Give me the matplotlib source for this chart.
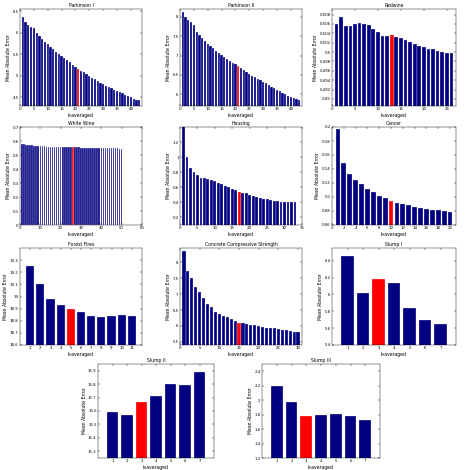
import matplotlib
matplotlib.use("Agg")
import matplotlib.pyplot as plt

W, H = 474, 470

park1 = [6.36, 6.25, 6.18, 6.14, 6.12, 6.0, 5.93, 5.86, 5.79, 5.73, 5.67, 5.62, 5.56, 5.51,
         5.46, 5.41, 5.36, 5.31, 5.26, 5.21, 5.16, 5.12, 5.08, 5.04, 5.0, 4.96, 4.92, 4.88,
         4.84, 4.80, 4.77, 4.74, 4.71, 4.68, 4.65, 4.62, 4.59, 4.56, 4.53, 4.50, 4.47, 4.45, 4.43]
park2 = [8.12, 8.0, 7.92, 7.86, 7.78, 7.62, 7.53, 7.45, 7.38, 7.31, 7.25, 7.19, 7.13, 7.07,
         7.01, 6.96, 6.91, 6.86, 6.81, 6.77, 6.73, 6.68, 6.63, 6.58, 6.53, 6.48, 6.44, 6.40,
         6.36, 6.32, 6.28, 6.24, 6.20, 6.16, 6.12, 6.08, 6.04, 6.00, 5.97, 5.94, 5.91, 5.88, 5.85]
redwine = [0.5060, 0.5075, 0.5055, 0.5056, 0.5060, 0.5062, 0.5060, 0.5057, 0.5049, 0.5043,
           0.5034, 0.5034, 0.5036, 0.5033, 0.5031, 0.5025, 0.5021, 0.5017, 0.5014, 0.5010,
           0.5006, 0.5006, 0.5002, 0.5000, 0.4999, 0.4998]
whitewine = [0.580, 0.576, 0.574, 0.572, 0.570, 0.568, 0.566, 0.565, 0.564, 0.563,
             0.562, 0.561, 0.560, 0.560, 0.559, 0.559, 0.558, 0.558, 0.557, 0.557,
             0.556, 0.556, 0.556, 0.555, 0.555, 0.555, 0.554, 0.554, 0.554, 0.553,
             0.553, 0.553, 0.552, 0.552, 0.552, 0.551, 0.551, 0.551, 0.550, 0.550,
             0.550, 0.549, 0.549, 0.549, 0.548, 0.548, 0.547, 0.547, 0.546, 0.546]
housing = [1.42, 1.0, 0.85, 0.8, 0.76, 0.73, 0.72, 0.71, 0.7, 0.68, 0.66, 0.64, 0.62, 0.6,
           0.58, 0.56, 0.54, 0.53, 0.52, 0.5, 0.49, 0.47, 0.46, 0.44, 0.44, 0.43, 0.42, 0.42,
           0.41, 0.4, 0.4, 0.4, 0.4]
cancer = [0.197, 0.148, 0.133, 0.124, 0.118, 0.112, 0.107, 0.102, 0.098, 0.094,
          0.091, 0.090, 0.088, 0.086, 0.085, 0.083, 0.082, 0.081, 0.080, 0.079]
forest = [19.25, 19.1, 18.98, 18.93, 18.9, 18.87, 18.84, 18.83, 18.84, 18.85, 18.84]
concrete = [8.35, 7.73, 7.5, 7.22, 7.08, 6.88, 6.7, 6.58, 6.45, 6.38, 6.32, 6.27, 6.22, 6.17,
            6.1, 6.09, 6.06, 6.04, 6.02, 6.0, 5.97, 5.95, 5.93, 5.92, 5.9, 5.88, 5.86, 5.84,
            5.82, 5.8]
slump1 = [6.46, 6.02, 6.18, 6.13, 5.84, 5.7, 5.65]
slump2 = [15.59, 15.57, 15.67, 15.71, 15.8, 15.79, 15.89]
slump3 = [2.19, 1.97, 1.78, 1.79, 1.81, 1.78, 1.73]

# (title, data, best k, ylim, xlim, xticks, yticks, pixel box l,t,r,b)
panels = [
    ("Parkinson I", park1, 21, (4.3, 6.55), (0, 44), range(0, 45, 5), [4.5, 5, 5.5, 6, 6.5], (20, 9, 142, 106)),
    ("Parkinson II", park2, 21, (5.7, 8.2), (0, 44), range(0, 45, 5), [6, 6.5, 7, 7.5, 8], (180, 9, 302, 106)),
    ("Redwine", redwine, 13, (0.4885, 0.5092), (0, 27), range(0, 30, 5),
     [0.49, 0.492, 0.494, 0.496, 0.498, 0.5, 0.502, 0.504, 0.506, 0.508], (332, 9, 456, 106)),
    ("White Wine", whitewine, 26, (0, 0.7), (0, 60), range(0, 61, 10),
     [0, 0.1, 0.2, 0.3, 0.4, 0.5, 0.6, 0.7], (20, 127, 142, 225)),
    ("Housing", housing, 17, (0.1, 1.4), (0, 35), range(0, 36, 5), [0.2, 0.4, 0.6, 0.8, 1, 1.2], (180, 127, 302, 225)),
    ("Cancer", cancer, 10, (0.06, 0.2), (0, 21), range(0, 21, 2),
     [0.06, 0.08, 0.1, 0.12, 0.14, 0.16, 0.18, 0.2], (332, 127, 456, 225)),
    ("Forest Fires", forest, 5, (18.6, 19.4), (0, 12), range(1, 12),
     [18.6, 18.7, 18.8, 18.9, 19, 19.1, 19.2, 19.3], (20, 248, 142, 345)),
    ("Concrete Compressive Strength", concrete, 15, (5.4, 8.45), (0, 31), range(0, 31, 5),
     [5.5, 6, 6.5, 7, 7.5, 8], (180, 248, 302, 345)),
    ("Slump I", slump1, 3, (5.4, 6.55), (0, 8), range(1, 8), [5.4, 5.6, 5.8, 6, 6.2, 6.4], (332, 248, 456, 345)),
    ("Slump II", slump2, 3, (15.25, 15.95), (0, 8), range(1, 8),
     [15.3, 15.4, 15.5, 15.6, 15.7, 15.8, 15.9], (98, 364, 214, 458)),
    ("Slump III", slump3, 3, (1.2, 2.5), (0, 8), range(1, 8), [1.2, 1.4, 1.6, 1.8, 2, 2.2, 2.4], (262, 364, 380, 458)),
]

fig = plt.figure(figsize=(W / 100, H / 100), dpi=100)
for title, data, best, ylim, xlim, xt, yt, (l, t, r, b) in panels:
    ax = fig.add_axes([l / W, 1 - b / H, (r - l) / W, (b - t) / H])
    ks = list(range(1, len(data) + 1))
    colors = ["#ff0000" if k == best else "#000080" for k in ks]
    ax.bar(ks, data, width=0.8, color=colors, edgecolor="white", linewidth=0.2)
    ax.set_ylim(*ylim)
    ax.set_xlim(*xlim)
    ax.set_xticks(list(xt))
    ax.set_yticks(yt)
    ax.set_yticklabels([f"{v:g}" for v in yt])
    ax.tick_params(labelsize=2.8, length=1.5, width=0.3, pad=1, direction="in", top=True, right=True)
    for s in ax.spines.values():
        s.set_linewidth(0.3)
    ax.set_title(title, fontsize=3.3, pad=1.5)
    ax.set_xlabel("k-averaged", fontsize=3.3, labelpad=1)
    ax.set_ylabel("Mean Absolute Error", fontsize=3.3, labelpad=1)

fig.savefig("out.png", dpi=100)
